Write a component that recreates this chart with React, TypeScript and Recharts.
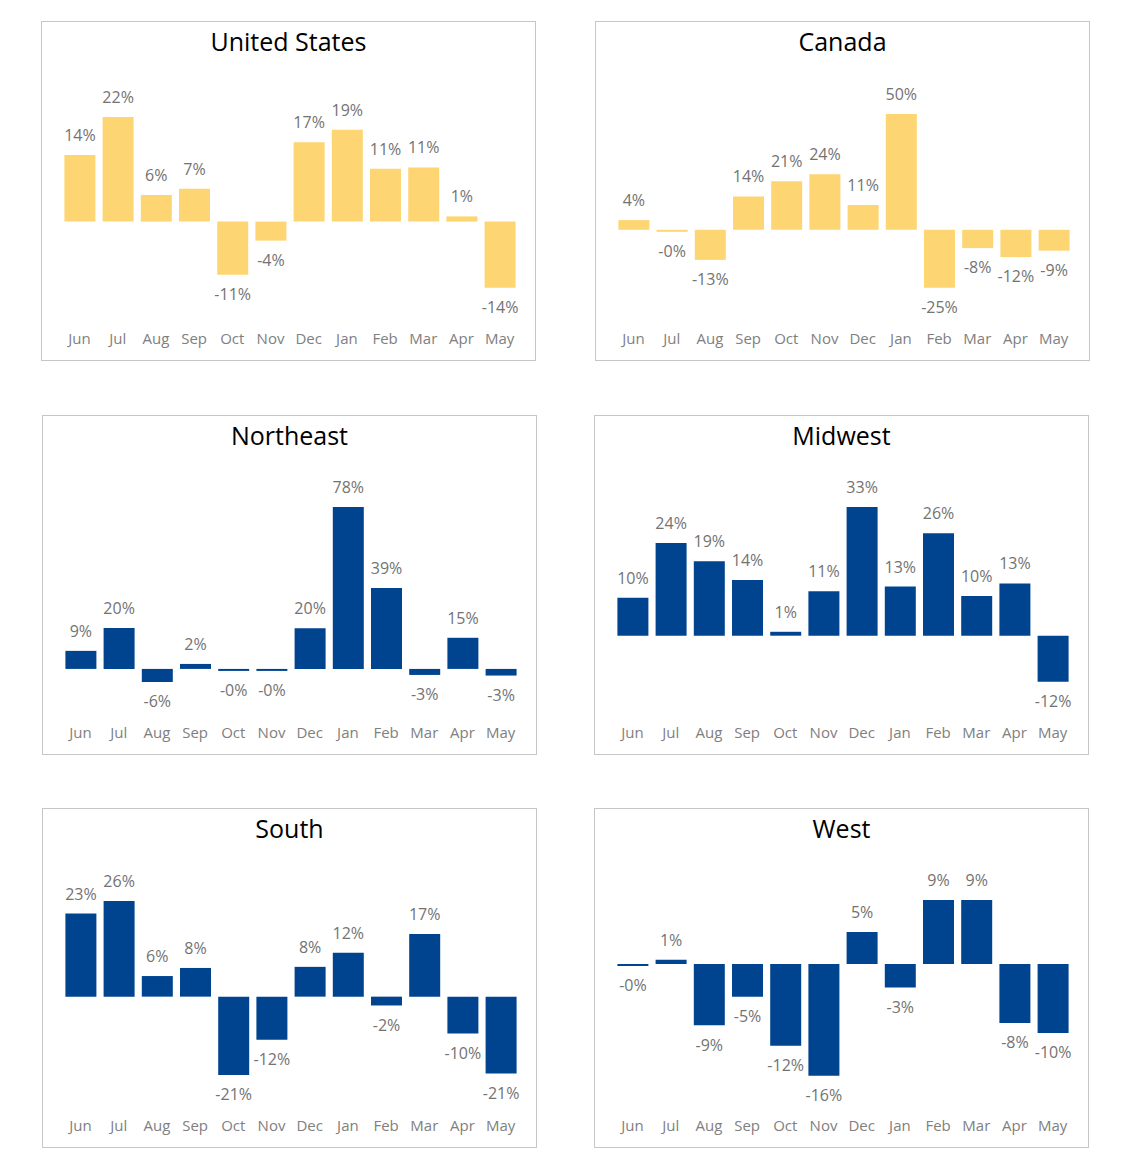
import React from 'react';
import { BarChart, Bar, XAxis, YAxis, LabelList } from 'recharts';

const MONTHS = ['Jun', 'Jul', 'Aug', 'Sep', 'Oct', 'Nov', 'Dec', 'Jan', 'Feb', 'Mar', 'Apr', 'May'];

const US_VALUES = [14, 22, 5.6, 6.9, -11.2, -4, 16.7, 19.3, 11.1, 11.4, 1.1, -13.9];
const CANADA_VALUES = [4.2, -0.4, -13, 14.4, 21, 24, 10.7, 50, -25, -7.9, -11.8, -9];
const NORTHEAST_VALUES = [8.7, 19.7, -6.3, 2.4, -0.4, -0.4, 19.6, 78, 39, -2.9, 15, -3.2];
const MIDWEST_VALUES = [9.7, 23.8, 19.1, 14.3, 1.0, 11.4, 33, 12.6, 26.3, 10.2, 13.4, -11.8];
const SOUTH_VALUES = [22.6, 26, 5.6, 7.8, -21.3, -11.7, 8.1, 11.9, -2.4, 17, -10, -20.9];
const WEST_VALUES = [-0.2, 0.6, -8.6, -4.6, -11.5, -15.7, 4.5, -3.3, 9, 9, -8.3, -9.7];

const YELLOW = '#FDD673';
const BLUE = '#00448F';
const BOX_W = 495;
const BOX_H = 340;
const PLOT_LEFT = 19.4;
const PLOT_W = 458.4;
const FONT = '"Open Sans", "Noto Sans", sans-serif';

const fmt = (v: any) => {
    const n = Number(v);
    return `${n < 0 ? '-' : ''}${Math.round(Math.abs(n))}%`;
};

interface PanelProps {
    title: string;
    values: number[];
    color: string;
    left: number;
    top: number;
    plotTop: number;
    plotBottom: number;
}

const Panel: React.FC<PanelProps> = ({ title, values, color, left, top, plotTop, plotBottom }) => {
    const data = MONTHS.map((m, i) => ({ month: m, value: values[i] }));
    const lo = Math.min(...values);
    const hi = Math.max(...values);
    const axisHeight = BOX_H - plotBottom;
    return (
        <div style={{ position: 'absolute', left, top, width: BOX_W, height: BOX_H }}>
            <BarChart
                width={BOX_W}
                height={BOX_H}
                data={data}
                margin={{ top: plotTop, bottom: 0, left: PLOT_LEFT, right: BOX_W - PLOT_LEFT - PLOT_W }}
                barSize={31}
            >
                <XAxis
                    dataKey="month"
                    axisLine={false}
                    tickLine={false}
                    tickSize={0}
                    height={axisHeight}
                    tickMargin={312 - plotBottom}
                    interval={0}
                    tick={{ fill: '#808080', fontSize: 15, fontFamily: FONT }}
                />
                <YAxis hide type="number" domain={[lo, hi]} />
                <Bar dataKey="value" fill={color} isAnimationActive={false} minPointSize={2}>
                    <LabelList
                        dataKey="value"
                        position="top"
                        offset={14}
                        formatter={fmt}
                        style={{ fill: '#737373', fontSize: 16, fontFamily: FONT }}
                    />
                </Bar>
            </BarChart>
            <div
                style={{
                    position: 'absolute',
                    left: 0,
                    top: 5,
                    width: BOX_W,
                    textAlign: 'center',
                    fontFamily: FONT,
                    fontSize: 25,
                    lineHeight: '30px',
                    color: '#000',
                }}
            >
                {title}
            </div>
            <div
                style={{
                    position: 'absolute',
                    left: 0,
                    top: 0,
                    width: BOX_W,
                    height: BOX_H,
                    boxSizing: 'border-box',
                    border: '1.5px solid #c6c6c6',
                    pointerEvents: 'none',
                }}
            />
        </div>
    );
};

export default function App() {
    return (
        <div style={{ position: 'relative', width: 1130, height: 1172, margin: -8, background: '#fff' }}>
            <Panel title="United States" values={US_VALUES} color={YELLOW} left={41} top={21} plotTop={96} plotBottom={266.7} />
            <Panel title="Canada" values={CANADA_VALUES} color={YELLOW} left={595} top={21} plotTop={93} plotBottom={266.7} />
            <Panel title="Northeast" values={NORTHEAST_VALUES} color={BLUE} left={42} top={415} plotTop={92} plotBottom={267} />
            <Panel title="Midwest" values={MIDWEST_VALUES} color={BLUE} left={594} top={415} plotTop={92} plotBottom={266.7} />
            <Panel title="South" values={SOUTH_VALUES} color={BLUE} left={42} top={808} plotTop={93} plotBottom={267} />
            <Panel title="West" values={WEST_VALUES} color={BLUE} left={594} top={808} plotTop={92} plotBottom={267.7} />
        </div>
    );
}
